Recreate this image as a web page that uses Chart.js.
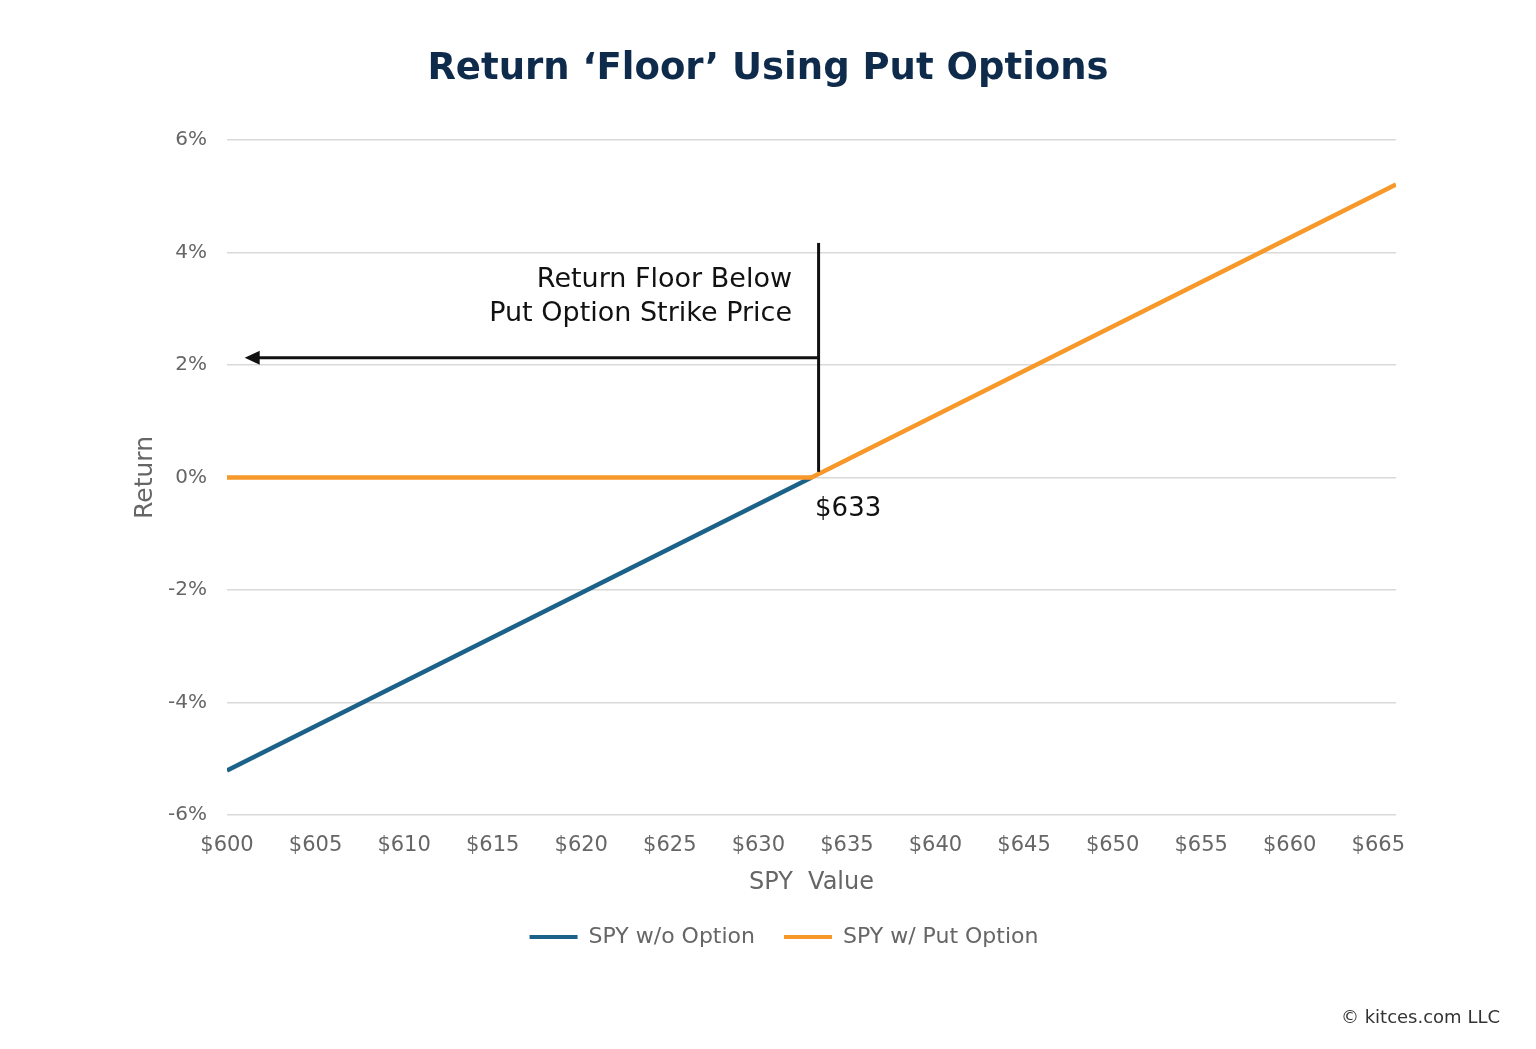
<!DOCTYPE html>
<html>
<head>
<meta charset="utf-8">
<script src="https://cdn.jsdelivr.net/npm/chart.js@4"></script>
<style>
    html, body { margin: 0; padding: 0; background: #ffffff; }
    #wrap { width: 1536px; height: 1049px; }
</style>
</head>
<body>
<div id="wrap"><canvas id="chart"></canvas></div>
<script>
// SPY price points (x) and returns in % (y)
const noOptionX = [600, 633];
const noOptionY = [-5.21, 0];
const putOptionX = [600, 633, 666];
const putOptionY = [0, 0, 5.21];

const seriesNames = ['SPY w/o Option', 'SPY w/ Put Option'];
const seriesColors = ['#1c6188', '#f7982a'];

// axis range and ticks
const xMin = 600, xMax = 666, xStep = 5;
const yMin = -6, yMax = 6, yStep = 2;

const FONT = "'DejaVu Sans', sans-serif";

const chartTitle = 'Return \u2018Floor\u2019 Using Put Options';
const creditText = '\u00A9 kitces.com LLC';

// Callout: bracket line at the strike, arrow pointing to lower prices
const strikeLabel = '$633';
const calloutLines = ['Return Floor Below', 'Put Option Strike Price'];

function toPoints(xs, ys) {
    return xs.map((x, i) => ({ x: x, y: ys[i] }));
}

// title, strike bracket, arrow, callout text and the credit line
const calloutPlugin = {
    id: 'callout',
    afterLayout(chart) {
        // legend sits a little right of the plot centre in the original
        chart.legend.left += 21;
        chart.legend.right += 21;
    },
    afterDatasetsDraw(chart) {
        const ctx = chart.ctx;
        const xs = chart.scales.x;
        const ys = chart.scales.y;

        const lineX = xs.getPixelForValue(633.4);
        const arrowY = ys.getPixelForValue(2.13);
        const arrowEnd = xs.getPixelForValue(601);

        ctx.save();

        // title
        ctx.font = 'bold 37px ' + FONT;
        ctx.fillStyle = '#0f2b4c';
        ctx.textAlign = 'center';
        ctx.textBaseline = 'middle';
        ctx.fillText(chartTitle, chart.width / 2, 69);

        ctx.strokeStyle = '#111111';
        ctx.fillStyle = '#111111';
        ctx.lineWidth = 3;

        // vertical line
        ctx.beginPath();
        ctx.moveTo(lineX, ys.getPixelForValue(4.17));
        ctx.lineTo(lineX, ys.getPixelForValue(0.1));
        ctx.stroke();

        // horizontal arrow
        ctx.beginPath();
        ctx.moveTo(lineX, arrowY);
        ctx.lineTo(arrowEnd + 12, arrowY);
        ctx.stroke();
        ctx.beginPath();
        ctx.moveTo(arrowEnd, arrowY);
        ctx.lineTo(arrowEnd + 15, arrowY - 7);
        ctx.lineTo(arrowEnd + 15, arrowY + 7);
        ctx.closePath();
        ctx.fill();

        // text
        ctx.font = '27px ' + FONT;
        ctx.textAlign = 'right';
        ctx.textBaseline = 'alphabetic';
        ctx.fillText(calloutLines[0], xs.getPixelForValue(631.9), ys.getPixelForValue(3.38));
        ctx.fillText(calloutLines[1], xs.getPixelForValue(631.9), ys.getPixelForValue(2.79));
        ctx.textAlign = 'left';
        ctx.font = '26px ' + FONT;
        ctx.fillText(strikeLabel, xs.getPixelForValue(633.2), ys.getPixelForValue(-0.69));

        // credit
        ctx.font = '18px ' + FONT;
        ctx.fillStyle = '#333333';
        ctx.textAlign = 'right';
        ctx.fillText(creditText, 1500, 1023);
        ctx.restore();
    }
};

document.addEventListener('DOMContentLoaded', () => {
    const ctx = document.getElementById('chart').getContext('2d');

    new Chart(ctx, {
        type: 'line',
        data: {
            datasets: [
                {
                    label: seriesNames[0],
                    data: toPoints(noOptionX, noOptionY),
                    borderColor: seriesColors[0],
                    backgroundColor: seriesColors[0],
                    borderWidth: 4.5,
                    pointRadius: 0,
                    order: 2
                },
                {
                    label: seriesNames[1],
                    data: toPoints(putOptionX, putOptionY),
                    borderColor: seriesColors[1],
                    backgroundColor: seriesColors[1],
                    borderWidth: 4.5,
                    pointRadius: 0,
                    order: 1
                }
            ]
        },
        options: {
            responsive: true,
            maintainAspectRatio: false,
            animation: false,
            devicePixelRatio: 1,
            layout: {
                padding: { left: 130, right: 140, top: 140, bottom: 91 }
            },
            scales: {
                x: {
                    type: 'linear',
                    min: xMin,
                    max: xMax,
                    grid: { display: false, drawTicks: false },
                    border: { display: false },
                    ticks: {
                        stepSize: xStep,
                        includeBounds: false,
                        maxRotation: 0,
                        autoSkip: false,
                        padding: 18,
                        color: '#666666',
                        font: { family: FONT, size: 21 },
                        callback: v => '$' + v
                    },
                    title: {
                        display: true,
                        text: 'SPY  Value',
                        color: '#666666',
                        font: { family: FONT, size: 24 },
                        padding: { top: -8, bottom: 0 }
                    }
                },
                y: {
                    min: yMin,
                    max: yMax,
                    afterFit: scale => { scale.width = 97; },
                    grid: {
                        color: '#d9d9d9',
                        lineWidth: 1.5,
                        drawTicks: false
                    },
                    border: { display: false },
                    ticks: {
                        stepSize: yStep,
                        padding: 20,
                        color: '#666666',
                        font: { family: FONT, size: 20 },
                        callback: v => v + '%'
                    },
                    title: {
                        display: true,
                        text: 'Return',
                        color: '#666666',
                        font: { family: FONT, size: 25 },
                        padding: { top: 0, bottom: 0 }
                    }
                }
            },
            plugins: {
                title: { display: false },
                legend: {
                    position: 'bottom',
                    labels: {
                        color: '#666666',
                        font: { family: FONT, size: 22 },
                        boxWidth: 48,
                        boxHeight: 4,
                        padding: 29,
                        sort: (a, b) => a.datasetIndex - b.datasetIndex,
                        generateLabels: chart => {
                            const items = Chart.defaults.plugins.legend.labels.generateLabels(chart);
                            items.forEach(item => { item.lineWidth = 0; });
                            return items;
                        }
                    }
                },
                tooltip: { enabled: false }
            }
        },
        plugins: [calloutPlugin]
    });
});
</script>
</body>
</html>
